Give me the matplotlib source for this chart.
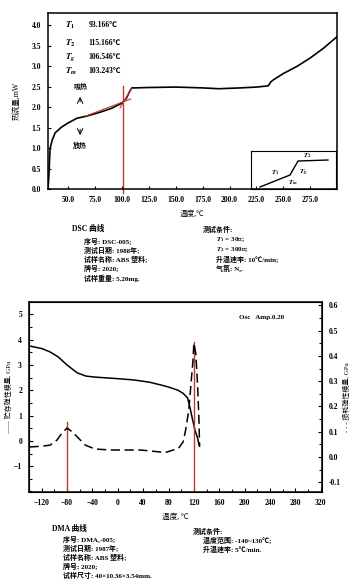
import matplotlib
matplotlib.use('Agg')
import matplotlib.pyplot as plt
from matplotlib.ticker import MultipleLocator

plt.rcParams['font.family'] = ['Liberation Serif', 'Noto Sans CJK SC', 'DejaVu Sans']
plt.rcParams['font.weight'] = 'bold'
plt.rcParams['mathtext.fontset'] = 'stix'

W, H = 353.0, 588.0

# ---- DSC data ----
dsc_temp = [31, 32, 32.5, 33, 35, 37.6, 43, 48.8, 58, 67, 80, 90, 100, 104, 107, 109,
            112, 125, 150, 175, 190, 210, 225, 236, 237, 238.5, 241, 250, 263, 275, 287, 300]
dsc_heat = [0.0, 0.4, 0.75, 1.0, 1.2, 1.37, 1.5, 1.6, 1.73, 1.78, 1.88, 1.97, 2.1, 2.22, 2.38, 2.47,
            2.47, 2.48, 2.49, 2.47, 2.45, 2.47, 2.49, 2.52, 2.56, 2.62, 2.67, 2.82, 3.0, 3.2, 3.43, 3.72]
dsc_xticks = [50, 75, 100, 125, 150, 175, 200, 225, 250, 275]
dsc_yticks = [0.0, 0.5, 1.0, 1.5, 2.0, 2.5, 3.0, 3.5, 4.0]
dsc_names = [r'$T_1$', r'$T_2$', r'$T_g$', r'$T_m$']
dsc_vals = ['93.166℃', '115.166℃', '106.546℃', '103.243℃']
dsc_mark = 100.5          # red vertical line
tan1_t = [66, 108]        # red tangent lines
tan1_h = [1.78, 2.2]
tan2_t = [98, 109]
tan2_h = [1.98, 2.46]
# inset sketch (box coordinates 0..1)
sketch_x = [0.106, 0.459, 0.553, 0.906]
sketch_y = [0.053, 0.368, 0.737, 0.763]

# ---- DMA data ----
dma_temp_s = [-139, -120, -107, -94, -80, -64, -50, -35, 0, 25, 50, 68, 80, 95,
              103, 110, 114, 118, 122, 126, 128]
storage = [3.75, 3.65, 3.52, 3.32, 3.0, 2.69, 2.56, 2.52, 2.46, 2.41, 2.32, 2.21, 2.13, 2.0,
           1.88, 1.7, 1.3, 0.83, 0.4, 0.1, -0.16]
dma_temp_l = [-139, -120, -107, -96, -88, -80, -72, -64, -51, -36, -12, 36, 75, 96,
              103, 107, 112, 115, 118.5, 120, 123, 126, 128, 129]
loss = [0.04, 0.043, 0.047, 0.067, 0.095, 0.115, 0.1, 0.08, 0.047, 0.032, 0.028, 0.028, 0.018, 0.035,
        0.06, 0.107, 0.186, 0.277, 0.38, 0.45, 0.41, 0.277, 0.146, 0.04]
dma_xticks = [-120, -80, -40, 0, 40, 80, 120, 160, 200, 240, 280, 320]
dma_lticks = [-1, 0, 1, 2, 3, 4, 5]
dma_rticks = [-0.1, 0.0, 0.1, 0.2, 0.3, 0.4, 0.5, 0.6]
dma_marks = [(-80, 0.75), (120, 3.9)]


def fx(x):
    return x / W


def fy(y):
    return 1 - y / H


fig = plt.figure(figsize=(W / 100, H / 100), dpi=100)
red = '#c0392b'
tfs = 5.5

# ================= DSC =================
ax = fig.add_axes([fx(48), fy(189), (337 - 48) / W, (189 - 13) / H])
ax.plot(dsc_temp, dsc_heat, color='black', lw=1.2)
ax.plot(tan1_t, tan1_h, color=red, lw=0.8)
ax.plot(tan2_t, tan2_h, color=red, lw=0.8)
ax.plot([dsc_mark, dsc_mark], [2.51, -0.1], color=red, lw=1.0, clip_on=False)
ax.set_xlim(31, 300)
ax.set_ylim(0, 4.3)
ax.set_xticks(dsc_xticks)
ax.set_xticklabels(['%.1f' % v for v in dsc_xticks])
ax.set_yticks(dsc_yticks)
ax.set_yticklabels(['%.1f' % v for v in dsc_yticks])
ax.tick_params(direction='in', labelsize=tfs, length=2.5, width=0.8, pad=5)
for s in ax.spines.values():
    s.set_linewidth(1.1)
ax.set_xlabel('温度,℃', fontsize=tfs, labelpad=4)
ax.set_ylabel('热流量,mW', fontsize=tfs, labelpad=8)

for i in range(4):
    yy = [0.932, 0.83, 0.75, 0.67][i]
    ax.text(0.06, yy, dsc_names[i], transform=ax.transAxes, fontsize=6.5, va='center')
    ax.text(0.14, yy, dsc_vals[i], transform=ax.transAxes, fontsize=5.5, va='center')

ax.text(0.111, 0.59, '吸热', transform=ax.transAxes, fontsize=5, ha='center', va='center')
ax.annotate('', xy=(0.111, 0.54), xytext=(0.111, 0.48), xycoords='axes fraction',
            arrowprops=dict(arrowstyle='->', lw=0.7, color='black'))
ax.annotate('', xy=(0.111, 0.29), xytext=(0.111, 0.355), xycoords='axes fraction',
            arrowprops=dict(arrowstyle='->', lw=0.7, color='black'))
ax.text(0.111, 0.25, '放热', transform=ax.transAxes, fontsize=5, ha='center', va='center')

ins = fig.add_axes([fx(251), fy(189), (336 - 251) / W, (189 - 151) / H])
ins.set_xlim(0, 1)
ins.set_ylim(0, 1)
ins.set_xticks([])
ins.set_yticks([])
ins.patch.set_alpha(0)
for s in ins.spines.values():
    s.set_linewidth(0.8)
ins.plot(sketch_x, sketch_y, color='black', lw=1.0)
for lab, px, py in [(r'$T_1$', 0.29, 0.42), (r'$T_m$', 0.49, 0.16),
                    (r'$T_g$', 0.61, 0.42), (r'$T_2$', 0.66, 0.87)]:
    ins.text(px, py, lab, fontsize=5, ha='center', va='center')

# DSC notes
fig.text(fx(72), fy(229), 'DSC 曲线', fontsize=5.5, va='center')
for i, t in enumerate(['序号: DSC-005;', '测试日期: 1988年;', '试样名称: ABS 塑料;',
                       '牌号: 2020;', '试样重量: 5.20mg.']):
    fig.text(fx(84), fy([241, 250, 259, 268, 278][i]), t, fontsize=5, va='center')
fig.text(fx(203), fy(229), '测试条件:', fontsize=5, va='center')
for i, t in enumerate([r'$T_1$ = 30℃;', r'$T_2$ = 300℃;']):
    fig.text(fx(216), fy([240, 250][i]), t, fontsize=5, va='center')
fig.text(fx(216), fy(259), '升温速率: 10℃/min;', fontsize=5, va='center')
fig.text(fx(216), fy(268), '气氛: N₂.', fontsize=5, va='center')

# ================= DMA =================
bx = fig.add_axes([fx(29), fy(492), (322 - 29) / W, (492 - 302) / H])
bx.plot(dma_temp_s, storage, color='black', lw=1.1)
for t, top in dma_marks:
    bx.plot([t, t], [top, -2.02], color=red, lw=1.0)
bx.set_xlim(-140, 322)
bx.set_ylim(-2.02, 5.49)
bx.set_xticks(dma_xticks)
bx.xaxis.set_minor_locator(MultipleLocator(20))
bx.set_yticks(dma_lticks)
bx.yaxis.set_minor_locator(MultipleLocator(0.5))
bx.tick_params(which='both', direction='in', labelsize=tfs, width=0.8, pad=5)
bx.tick_params(which='major', length=3)
bx.tick_params(which='minor', length=2)
for s in bx.spines.values():
    s.set_linewidth(1.1)
bx.set_xlabel('温度, ℃', fontsize=tfs, labelpad=4)
bx.set_ylabel('—— 贮存弹性模量, GPa', fontsize=5, labelpad=1)
bx.text(0.87, 0.92, 'Osc   Amp.0.20', transform=bx.transAxes, fontsize=5, ha='right', va='center')

rx = bx.twinx()
rx.plot(dma_temp_l, loss, color='black', lw=1.1, dashes=(6, 3))
rx.set_ylim(-0.138, 0.613)
rx.set_yticks(dma_rticks)
rx.set_yticklabels(['%.1f' % v for v in dma_rticks])
rx.yaxis.set_minor_locator(MultipleLocator(0.05))
rx.tick_params(which='both', direction='in', labelsize=tfs, width=0.8, pad=5)
rx.tick_params(which='major', length=3)
rx.tick_params(which='minor', length=2)
rx.set_ylabel('- - - 损耗弹性模量, GPa', fontsize=5, labelpad=1)

# DMA notes
fig.text(fx(52), fy(529), 'DMA 曲线', fontsize=5.5, va='center')
for i, t in enumerate(['序号: DMA₁-005;', '测试日期: 1987年;', '试样名称: ABS 塑料;',
                       '牌号: 2020;', '试样尺寸: 40×10.36×3.54mm.']):
    fig.text(fx(63), fy([539, 548, 557, 566, 575][i]), t, fontsize=5, va='center')
fig.text(fx(193), fy(531), '测试条件:', fontsize=5, va='center')
for i, t in enumerate(['温度范围: -140~130℃;', '升温速率: 5℃/min.']):
    fig.text(fx(203), fy([540, 549][i]), t, fontsize=5, va='center')

fig.savefig('out.png', dpi=100)
